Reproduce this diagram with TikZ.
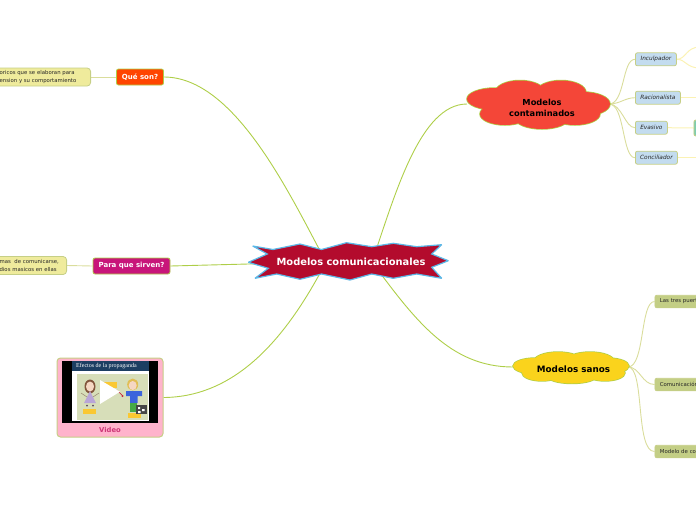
\documentclass[tikz,border=0pt]{standalone}
\usepackage{fontspec}
\setmainfont{DejaVu Sans}
\newfontfamily\vidserif{Liberation Serif}
\usetikzlibrary{backgrounds}
\definecolor{lineG}{HTML}{AECE48}
\definecolor{lineP}{HTML}{DADD9C}
\definecolor{lineY}{HTML}{FBF2B4}
\definecolor{boxB}{HTML}{C6CF86}
\definecolor{rootF}{HTML}{B30B2D}
\definecolor{rootB}{HTML}{5CB9E8}
\definecolor{blueF}{HTML}{C3DCEF}
\definecolor{oliveF}{HTML}{C3CE85}
\definecolor{paleY}{HTML}{EFEB9C}
\definecolor{redC}{HTML}{F44638}
\definecolor{yelC}{HTML}{FAD31C}
\definecolor{orangeT}{HTML}{FF4500}
\definecolor{magT}{HTML}{C8157A}
\definecolor{pinkF}{HTML}{FFB3CC}
\definecolor{vidT}{HTML}{CD3778}
\definecolor{thGreen}{HTML}{D7DEB9}
\definecolor{thBlue}{HTML}{1C3E62}
\definecolor{hairB}{HTML}{82553C}
\definecolor{skin}{HTML}{F5D7C3}
\definecolor{dress}{HTML}{B9A5D7}
\definecolor{armG}{HTML}{96826E}
\definecolor{feet}{HTML}{5A465A}
\definecolor{tag}{HTML}{FAC832}
\definecolor{hairY}{HTML}{E1BE55}
\definecolor{shirt}{HTML}{3C64DC}
\definecolor{pants}{HTML}{46AA46}
\definecolor{qrG}{HTML}{464646}
\definecolor{arrR}{HTML}{C8283C}
\definecolor{tealF}{HTML}{7DCDAF}
\tikzset{
  topicbox/.style={draw=lineG,line width=0.8pt,rounded corners=2pt,minimum height=16pt,inner sep=0pt,
    text=white,font=\fontsize{7}{9}\selectfont\bfseries},
  notebox/.style={draw=boxB,fill=paleY,line width=0.8pt,rounded corners=3.5pt,anchor=east,inner xsep=0pt,inner ysep=0pt,
    align=left,text=black!85,font=\fontsize{5.35}{7.2}\selectfont},
  bluebox/.style={draw=boxB,fill=blueF,line width=0.8pt,rounded corners=2pt,anchor=west,minimum height=13pt,inner sep=0pt,
    text=black!85,font=\fontsize{5.8}{7}\selectfont\itshape},
  olivebox/.style={draw=boxB,fill=oliveF,line width=0.8pt,rounded corners=2pt,anchor=west,minimum height=12.5pt,inner sep=0pt,
    text=black!85,font=\fontsize{5.4}{7}\selectfont,minimum width=60pt,text width=50pt,align=left},
  mainline/.style={draw=lineG,line width=0.9pt},
  subline/.style={draw=lineP,line width=0.9pt},
  paleline/.style={draw=lineY,line width=1pt},
}
\newcommand{\lobesA}[1]{
  \path[#1] (495,99) ellipse (28 and 11) (520,92.5) ellipse (25 and 12) (561,92.5) ellipse (25 and 12)
    (583,104) ellipse (27 and 12) (505,114) ellipse (25 and 11) (542,118) ellipse (27 and 11)
    (575,114) ellipse (25 and 11) (538,104) ellipse (55 and 18);}
\newcommand{\lobesB}[1]{
  \path[#1] (535,366) ellipse (22 and 8) (558,361) ellipse (24 and 9) (590,361) ellipse (24 and 9)
    (608,366) ellipse (21 and 8) (542,373) ellipse (20 and 8) (572,376) ellipse (25 and 7.5)
    (605,373) ellipse (20 and 8) (570,367) ellipse (40 and 10);}
\begin{document}
\begin{tikzpicture}[x=1pt,y=-1pt]
\useasboundingbox (0,0) rectangle (696,520);
\clip (0,0) rectangle (696,520);

% central star
\path[draw=rootB,fill=rootF,line width=1.2pt,line join=miter,miter limit=2.5]
  (252.7,246) -- (273,249.5) -- (300,244) -- (321.5,249.5) -- (346.5,242.7) -- (371.7,246.7)
  -- (393.3,243.3) -- (416.7,246.7) -- (441.7,244.7) -- (431.7,254) -- (448.3,260.7) -- (431.7,267.3)
  -- (441.7,278.3) -- (416.7,274) -- (393.3,278.3) -- (371.7,274) -- (350,280) -- (321.5,274)
  -- (300,279.3) -- (276.7,274) -- (255,278.3) -- (268.3,268.3) -- (248.3,262.3) -- (267.3,254) -- cycle;
\node[text=white,font=\fontsize{9.9}{12}\selectfont\bfseries,inner sep=0pt] (root) at (351,261.5) {Modelos comunicacionales};
\coordinate (rootL) at (326,262);
\coordinate (rootR) at (372,262);

% left topics
\node[topicbox,fill=orangeT,minimum width=47pt] (que) at (140,77) {Qué son?};
\node[topicbox,fill=magT,minimum width=77pt] (para) at (131.5,266) {Para que sirven?};
\node[notebox,text width=101pt,minimum height=18pt] (queN) at (91,77)
  {\hspace*{10pt}oricos que se elaboran para\\\hspace*{10pt}ension y su comportamiento};
\node[notebox,text width=77pt,minimum height=18pt] (paraN) at (67,265.5)
  {\hspace*{10pt}mas\ \ de comunicarse,\\\hspace*{10pt}dios masicos en ellas};

% video card
\node[draw=boxB,fill=pinkF,line width=1pt,rounded corners=3.5pt,
  minimum width=106pt,minimum height=79pt,inner sep=0pt] (video) at (110,397.5) {};
\fill[black] (62.3,360.7) rectangle (157.7,423.3);
\fill[white] (72,370.7) rectangle (149,421);
\fill[thGreen] (76.7,374) rectangle (148,420);
\fill[thBlue] (72.3,360.7) rectangle (149,370.7);
\node[text=white,font=\vidserif\fontsize{6}{7}\selectfont,inner sep=0pt,anchor=west] (vtitle) at (76,365.7) {Efectos de la propaganda};
% girl
\fill[hairB] (90,386.5) ellipse (5.5 and 7);
\fill[skin] (90,386.5) ellipse (4 and 5);
\fill[dress] (90,391) -- (84,403) -- (96,403) -- cycle;
\draw[armG,line width=0.5pt] (87,397) -- (81,393) (93,397) -- (99,393);
\fill[feet] (87,405.5) circle (1) (93,405.5) circle (1);
\fill[tag] (82.7,409) rectangle (95.7,413.5);
% boy
\fill[hairY] (132.7,384.5) ellipse (5.5 and 6);
\fill[skin] (132.7,385.5) ellipse (4 and 4.5);
\fill[shirt] (126,391) -- (142,391) -- (142,396) -- (137.5,396) -- (137.5,403) -- (130,403) -- (130,396) -- (126,396) -- cycle;
\fill[pants] (130,403) rectangle (137,412);
\fill[tag] (128,413) rectangle (141,418);
\fill[qrG] (135.7,405) rectangle (146.7,414);
\fill[white] (138,407) rectangle (140,409) (142,409) rectangle (144.5,411) (138,411) rectangle (140.5,413);
% props and play mark
\fill[tag] (103,382) rectangle (117,388);
\draw[arrR,line width=0.7pt] (117,390) -- (122,395);
\fill[arrR] (122.5,396) circle (1.2);
\fill[white] (100,380) -- (100,404) -- (120,391.7) -- cycle;
\node[text=vidT,font=\fontsize{6.8}{8}\selectfont\bfseries,inner sep=0pt] (videoL) at (110,429.5) {Video};

% contaminated cloud
\lobesA{draw=lineG,line width=1.5pt}
\lobesA{fill=redC}
\node[align=center,font=\fontsize{8.3}{11}\selectfont\bfseries,inner sep=0pt,text=black] (cont) at (542,107.5) {Modelos\\contaminados};
\coordinate (contW) at (467,104);
\coordinate (contE) at (609,104);

% healthy cloud
\lobesB{draw=lineG,line width=1.4pt}
\lobesB{fill=yelC}
\node[font=\fontsize{8.8}{10}\selectfont\bfseries,inner sep=0pt,text=black] (sanos) at (573.5,369.7) {Modelos sanos};
\coordinate (sanosW) at (513,367);
\coordinate (sanosE) at (628,367);

% right blue children
\node[bluebox,minimum width=41pt] (inc) at (635,59.3) {Inculpador};
\node[bluebox,minimum width=45pt] (rac) at (635,97.7) {Racionalista};
\node[bluebox,minimum width=32pt] (eva) at (635,127.7) {Evasivo};
\node[bluebox,minimum width=42pt] (con) at (635,157.7) {Conciliador};
\node[draw=boxB,fill=tealF,line width=0.8pt,rounded corners=2pt,anchor=west,minimum width=20pt,minimum height=16pt,inner sep=0pt] (teal) at (693.5,128) {};
\coordinate (incU) at (700,47);
\coordinate (incD) at (700,68);
\coordinate (racE) at (700,97.7);
\coordinate (conE) at (700,157.7);

% right olive children
\node[olivebox] (tres) at (654.5,301.5) {Las tres puert};
\node[olivebox] (comu) at (654.5,384.5) {Comunicación};
\node[olivebox] (mode) at (654.5,451.5) {Modelo de com};

\begin{pgfonlayer}{background}
  \draw[mainline] (que.east) .. controls (235,77) and (290,195) .. (rootL);
  \draw[mainline] (para.east) -- (rootL);
  \draw[mainline] (video.east) .. controls (238,397) and (288,335) .. (rootL);
  \draw[mainline] (contW) .. controls (420,104) and (395,195) .. (rootR);
  \draw[mainline] (sanosW) .. controls (450,367) and (415,320) .. (rootR);
  \draw[subline] (queN.east) -- (que.west);
  \draw[subline] (paraN.east) -- (para.west);
  \draw[subline] (contE) .. controls (625,104) and (622,59.3) .. (inc.west);
  \draw[subline] (contE) .. controls (620,104) and (625,97.7) .. (rac.west);
  \draw[subline] (contE) .. controls (622,104) and (625,127.7) .. (eva.west);
  \draw[subline] (contE) .. controls (625,104) and (622,157.7) .. (con.west);
  \draw[subline] (sanosE) .. controls (645,367) and (640,301.5) .. (tres.west);
  \draw[subline] (sanosE) .. controls (640,367) and (642,384.5) .. (comu.west);
  \draw[subline] (sanosE) .. controls (645,367) and (635,451.5) .. (mode.west);
  \draw[paleline] (inc.east) .. controls (686,59.3) and (686,47) .. (incU);
  \draw[paleline] (inc.east) .. controls (686,59.3) and (686,68) .. (incD);
  \draw[paleline] (rac.east) -- (racE);
  \draw[paleline] (eva.east) -- (teal.west);
  \draw[paleline] (con.east) -- (conE);
\end{pgfonlayer}
\end{tikzpicture}
\end{document}
